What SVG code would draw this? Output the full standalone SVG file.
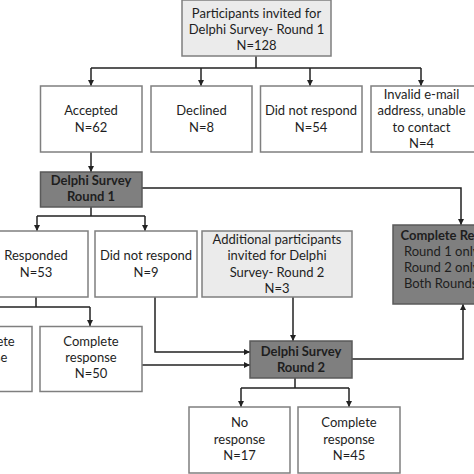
<svg xmlns="http://www.w3.org/2000/svg" width="474" height="474" viewBox="0 0 474 474">
<defs>
<style>
.box{fill:#ffffff;stroke:#7f7f7f;stroke-width:1.5}
.lt{fill:#ebebeb;stroke:#7f7f7f;stroke-width:1.5}
.dk{fill:#7f7f7f;stroke:#5a5a5a;stroke-width:1.5}
text{font-family:Lato,"Open Sans","Liberation Sans",sans-serif;font-size:13px;fill:#1e1e1e;text-anchor:middle}
.b{font-weight:bold}
.st{text-anchor:start}
.en{text-anchor:end}
.ln{fill:none;stroke:#222222;stroke-width:1.5}
</style>
<marker id="ar" markerUnits="userSpaceOnUse" markerWidth="8" markerHeight="8" refX="6" refY="3" orient="auto">
<path d="M0,0 L6,3 L0,6 Z" fill="#222222"/>
</marker>
</defs>
<rect width="474" height="474" fill="#ffffff"/>
<g id="connectors">
<path class="ln" d="M256,56 V68 M91,68 H421"/>
<path class="ln" d="M91,68 V86" marker-end="url(#ar)"/>
<path class="ln" d="M201,68 V86" marker-end="url(#ar)"/>
<path class="ln" d="M310,68 V86" marker-end="url(#ar)"/>
<path class="ln" d="M421,68 V86" marker-end="url(#ar)"/>
<path class="ln" d="M91,152 V172" marker-end="url(#ar)"/>
<path class="ln" d="M142,188 H461 V225" marker-end="url(#ar)"/>
<path class="ln" d="M91,207 V216 M37,216 H145"/>
<path class="ln" d="M37,216 V231" marker-end="url(#ar)"/>
<path class="ln" d="M145,216 V231" marker-end="url(#ar)"/>
<path class="ln" d="M36,297 V307 M-19,307 H90"/>
<path class="ln" d="M90,307 V326" marker-end="url(#ar)"/>
<path class="ln" d="M-19,307 V326" marker-end="url(#ar)"/>
<path class="ln" d="M155,297 V352 H250" marker-end="url(#ar)"/>
<path class="ln" d="M142,365 H250" marker-end="url(#ar)"/>
<path class="ln" d="M293,297 V341" marker-end="url(#ar)"/>
<path class="ln" d="M352,359 H463 V304" marker-end="url(#ar)"/>
<path class="ln" d="M295,378 V388 M241,388 H349"/>
<path class="ln" d="M241,388 V407" marker-end="url(#ar)"/>
<path class="ln" d="M349,388 V407" marker-end="url(#ar)"/>
</g>
<g id="invited">
<rect class="lt" x="182" y="0" width="149" height="56"/>
<text x="256.5" y="17.5">Participants invited for</text>
<text x="256.5" y="34">Delphi Survey- Round 1</text>
<text x="256.5" y="50">N=128</text>
</g>
<g id="accepted">
<rect class="box" x="40.5" y="86" width="101.5" height="66"/>
<text x="91" y="115">Accepted</text>
<text x="91" y="131.5">N=62</text>
</g>
<g id="declined">
<rect class="box" x="151" y="86" width="101" height="66"/>
<text x="201.5" y="115">Declined</text>
<text x="201.5" y="131.5">N=8</text>
</g>
<g id="noresp1">
<rect class="box" x="260.5" y="86" width="101.5" height="66"/>
<text x="311" y="115">Did not respond</text>
<text x="311" y="131.5">N=54</text>
</g>
<g id="invalid">
<rect class="box" x="371" y="86" width="104" height="66"/>
<text x="421.5" y="98.5">Invalid e-mail</text>
<text x="421.5" y="115">address, unable</text>
<text x="421.5" y="131.5">to contact</text>
<text x="421.5" y="148">N=4</text>
</g>
<g id="round1">
<rect class="dk" x="40.5" y="172" width="101.5" height="35"/>
<text class="b" x="91" y="185">Delphi Survey</text>
<text class="b" x="91" y="201">Round 1</text>
</g>
<g id="complete">
<rect class="dk" x="393" y="225" width="85" height="79"/>
<text class="b st" x="400.5" y="240">Complete Response</text>
<text class="st" x="404" y="256">Round 1 only</text>
<text class="st" x="404" y="272">Round 2 only</text>
<text class="st" x="404" y="288">Both Rounds</text>
</g>
<g id="responded">
<rect class="box" x="-15" y="231" width="103" height="66"/>
<text x="36" y="260">Responded</text>
<text x="36" y="276.5">N=53</text>
</g>
<g id="noresp2">
<rect class="box" x="95" y="231" width="102" height="66"/>
<text x="146" y="260">Did not respond</text>
<text x="146" y="276.5">N=9</text>
</g>
<g id="additional">
<rect class="lt" x="202" y="231" width="150" height="66"/>
<text x="277" y="244">Additional participants</text>
<text x="277" y="260">invited for Delphi</text>
<text x="277" y="276.5">Survey- Round 2</text>
<text x="277" y="293">N=3</text>
</g>
<g id="incomplete">
<rect class="box" x="-70" y="326.5" width="102" height="65"/>
<text class="en" x="14.7" y="346">Incomplete</text>
<text class="en" x="7.3" y="362">response</text>
</g>
<g id="complete50">
<rect class="box" x="40" y="326.5" width="102" height="65"/>
<text x="91" y="346">Complete</text>
<text x="91" y="362">response</text>
<text x="91" y="378">N=50</text>
</g>
<g id="round2">
<rect class="dk" x="250" y="341" width="102" height="37"/>
<text class="b" x="301" y="355.7">Delphi Survey</text>
<text class="b" x="301" y="371.7">Round 2</text>
</g>
<g id="noresp3">
<rect class="box" x="189" y="407" width="101" height="66"/>
<text x="239.5" y="427.3">No</text>
<text x="239.5" y="443.7">response</text>
<text x="239.5" y="460">N=17</text>
</g>
<g id="complete45">
<rect class="box" x="298" y="407" width="102" height="66"/>
<text x="349" y="427.3">Complete</text>
<text x="349" y="443.7">response</text>
<text x="349" y="460">N=45</text>
</g>
</svg>
